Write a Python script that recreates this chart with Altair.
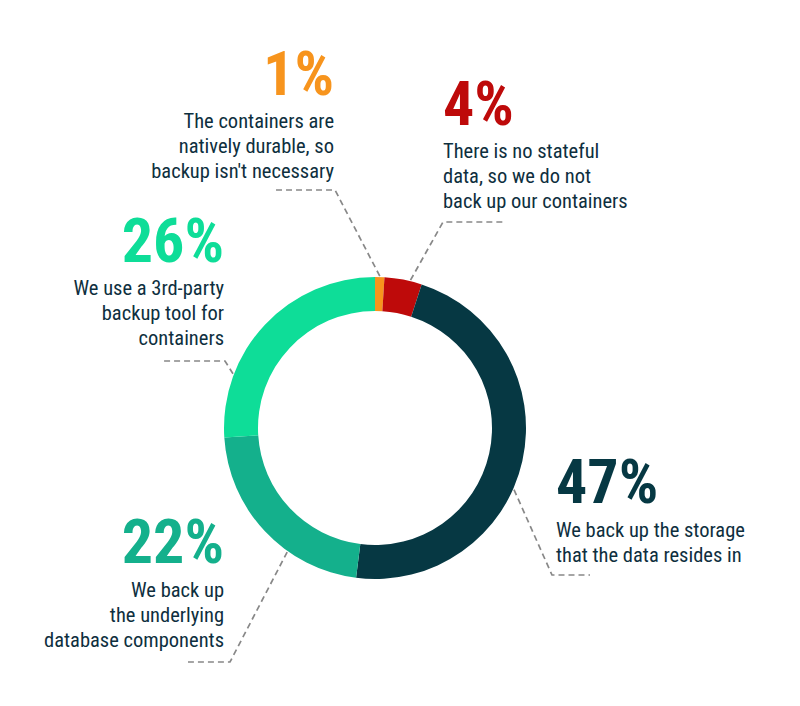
import math

import altair as alt
import pandas as pd

# %% data
categories = [
    "natively durable",
    "no stateful data",
    "storage",
    "database components",
    "3rd-party tool",
]
values = [1, 4, 47, 22, 26]
descriptions = [
    "The containers are\nnatively durable, so\nbackup isn't necessary",
    "There is no stateful\ndata, so we do not\nback up our containers",
    "We back up the storage\nthat the data resides in",
    "We back up\nthe underlying\ndatabase components",
    "We use a 3rd-party\nbackup tool for\ncontainers",
]

# %% style / layout (page pixels)
colors = ["#F7941D", "#BE0A0A", "#063843", "#14B08C", "#0EDD98"]
text_color = "#0E2F3E"
dash_color = "#888888"
font = "Roboto Condensed, Roboto"
W, H = 784, 690
cx, cy = 375, 428
r_out, r_in = 151, 117

# label anchor: x, baseline of big number, baseline of first text line, side
label_pos = [
    (334, 95, 128, "right"),
    (443, 125, 158, "left"),
    (556, 503, 537, "left"),
    (224, 563, 597, "right"),
    (224, 262, 295, "right"),
]
# leader lines: angle on ring (deg clockwise from top), elbow, end
leaders = [
    (1.8, (335, 190), (275, 190)),
    (13.5, (443, 222), (503, 222)),
    (113.9, (552, 575), (590, 575)),
    (215.3, (230, 662), (188, 662)),
    (290.9, (225, 361), (163, 361)),
]

df = pd.DataFrame({"category": categories, "value": values, "idx": range(len(values))})

lab = pd.DataFrame(
    {
        "category": categories,
        "pct": [f"{v}%" for v in values],
        "desc": descriptions,
        "x": [p[0] for p in label_pos],
        "y_pct": [p[1] for p in label_pos],
        "y_desc": [p[2] for p in label_pos],
        "side": [p[3] for p in label_pos],
    }
)

rows = []
for i, (ang, elbow, end) in enumerate(leaders):
    a = math.radians(ang)
    start = (cx + (r_out + 1) * math.sin(a), cy - (r_out + 1) * math.cos(a))
    for j, (px, py) in enumerate([start, elbow, end]):
        rows.append({"leader": i, "seq": j, "x": px, "y": py})
lines_df = pd.DataFrame(rows)

xs = alt.Scale(domain=[8, 8 + W])
ys = alt.Scale(domain=[8, 8 + H], reverse=True)
color_scale = alt.Scale(domain=categories, range=colors)

ring = (
    alt.Chart(df)
    .mark_arc(radius=r_out, radius2=r_in, strokeWidth=0)
    .encode(
        theta=alt.Theta("value:Q", stack=True),
        color=alt.Color("category:N", scale=color_scale, legend=None),
        order=alt.Order("idx:Q"),
        x=alt.value(cx - 8),
        y=alt.value(cy - 8),
    )
)

dashes = (
    alt.Chart(lines_df)
    .mark_line(color=dash_color, strokeDash=[6, 4], strokeWidth=1.7)
    .encode(
        x=alt.X("x:Q", scale=xs, axis=None),
        y=alt.Y("y:Q", scale=ys, axis=None),
        detail="leader:N",
        order="seq:Q",
    )
)


def labels(side):
    base = alt.Chart(lab).transform_filter(alt.datum.side == side)
    pct = base.mark_text(
        align=side, baseline="alphabetic", font=font, fontSize=62, fontWeight="bold"
    ).encode(
        x=alt.X("x:Q", scale=xs, axis=None),
        y=alt.Y("y_pct:Q", scale=ys, axis=None),
        text="pct:N",
        color=alt.Color("category:N", scale=color_scale, legend=None),
    )
    desc = base.mark_text(
        align=side,
        baseline="alphabetic",
        font=font,
        fontSize=20.5,
        lineBreak="\n",
        lineHeight=25,
        color=text_color,
    ).encode(
        x=alt.X("x:Q", scale=xs, axis=None),
        y=alt.Y("y_desc:Q", scale=ys, axis=None),
        text="desc:N",
    )
    return pct + desc


chart = (
    alt.layer(ring, dashes, labels("left"), labels("right"))
    .properties(
        width=W,
        height=H,
        padding=0,
        background="white",
        autosize=alt.AutoSizeParams(type="none"),
    )
    .configure_view(stroke=None)
)

chart.save("out.html", embed_options={"renderer": "svg", "actions": False})
